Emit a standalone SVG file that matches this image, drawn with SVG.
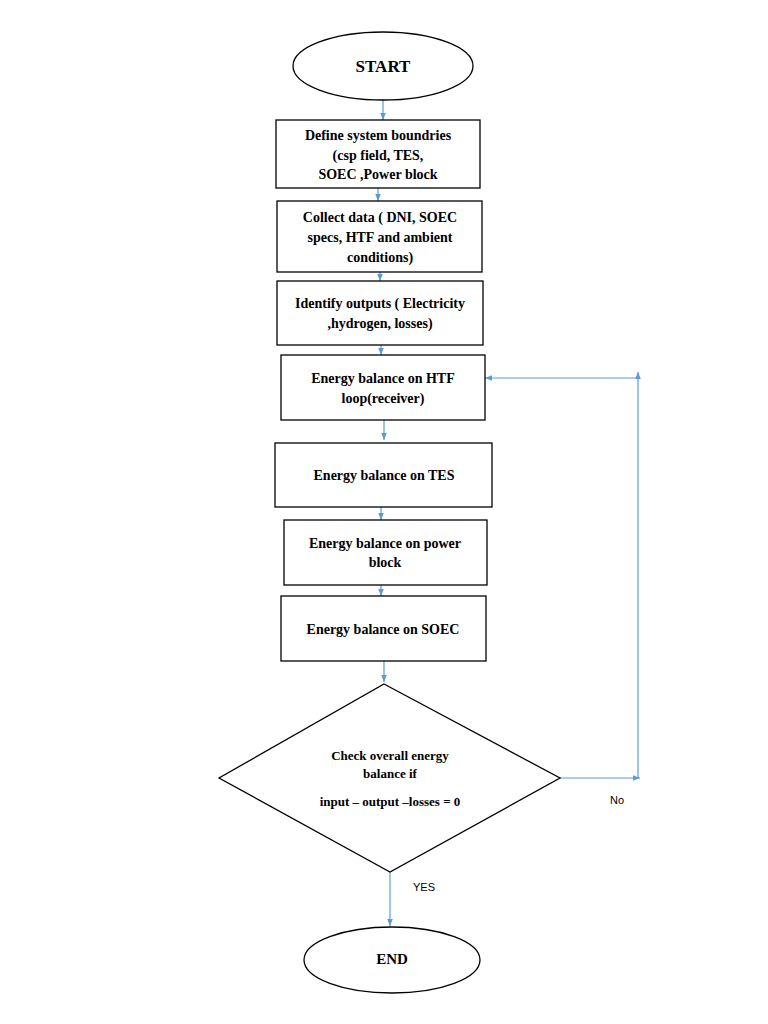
<svg xmlns="http://www.w3.org/2000/svg" width="768" height="1024" viewBox="0 0 768 1024">
<style>
.b{fill:#fff;stroke:#000;stroke-width:1.3}
.t{font-family:"Liberation Serif",serif;font-weight:bold;font-size:14px;text-anchor:middle;fill:#000}
.l{font-family:"Liberation Sans",sans-serif;font-size:11px;fill:#000}
.c{fill:none;stroke:#5b9bd5;stroke-width:1.2;marker-end:url(#a)}
</style>
<defs><marker id="a" viewBox="0 0 10 10" refX="10" refY="5" markerWidth="6" markerHeight="6" orient="auto"><path d="M0,1L10,5L0,9z" fill="#5b9bd5"/></marker></defs>
<rect width="768" height="1024" fill="#fff"/>
<g id="connectors">
<path class="c" d="M383,100V120"/>
<path class="c" d="M378,188V201"/>
<path class="c" d="M380,272V281"/>
<path class="c" d="M381,345V355"/>
<path class="c" d="M384,420V440"/>
<path class="c" d="M381,507V520"/>
<path class="c" d="M381,585V596"/>
<path class="c" d="M384,661V682"/>
<path class="c" d="M390,872V926"/>
<path class="c" d="M560,778H640"/>
<path class="c" d="M638,778V372"/>
<path class="c" d="M640,378H485"/>
<text class="l" x="610" y="804">No</text>
<text class="l" x="413" y="891">YES</text>
</g>
<g id="start"><ellipse class="b" cx="383" cy="66" rx="90" ry="34"/><text class="t" x="383" y="72" style="font-size:17px">START</text></g>
<g id="n1"><rect class="b" x="276" y="120" width="204" height="68"/><text class="t" x="378" y="140">Define system boundries</text><text class="t" x="378" y="160">(csp field, TES,</text><text class="t" x="378" y="179">SOEC ,Power block</text></g>
<g id="n2"><rect class="b" x="277" y="201" width="205" height="71"/><text class="t" x="380" y="222">Collect data ( DNI, SOEC</text><text class="t" x="380" y="242">specs, HTF and ambient</text><text class="t" x="380" y="262">conditions)</text></g>
<g id="n3"><rect class="b" x="277" y="281" width="206" height="64"/><text class="t" x="380" y="308">Identify outputs ( Electricity</text><text class="t" x="380" y="328">,hydrogen, losses)</text></g>
<g id="n4"><rect class="b" x="281" y="355" width="204" height="65"/><text class="t" x="383" y="383">Energy balance on HTF</text><text class="t" x="383" y="403">loop(receiver)</text></g>
<g id="n5"><rect class="b" x="275" y="443" width="217" height="64"/><text class="t" x="384" y="480">Energy balance on TES</text></g>
<g id="n6"><rect class="b" x="284" y="520" width="203" height="65"/><text class="t" x="385" y="548">Energy balance on power</text><text class="t" x="385" y="567">block</text></g>
<g id="n7"><rect class="b" x="281" y="596" width="205" height="65"/><text class="t" x="383" y="634">Energy balance on SOEC</text></g>
<g id="d"><path class="b" d="M384,684L560,778L390,872L219,778Z"/><text class="t" x="390" y="760" style="font-size:13px">Check overall energy</text><text class="t" x="390" y="778" style="font-size:13px">balance if</text><text class="t" x="390" y="806" style="font-size:13px">input – output –losses = 0</text></g>
<g id="end"><ellipse class="b" cx="392" cy="960" rx="88" ry="33"/><text class="t" x="392" y="964" style="font-size:15px">END</text></g>
</svg>
